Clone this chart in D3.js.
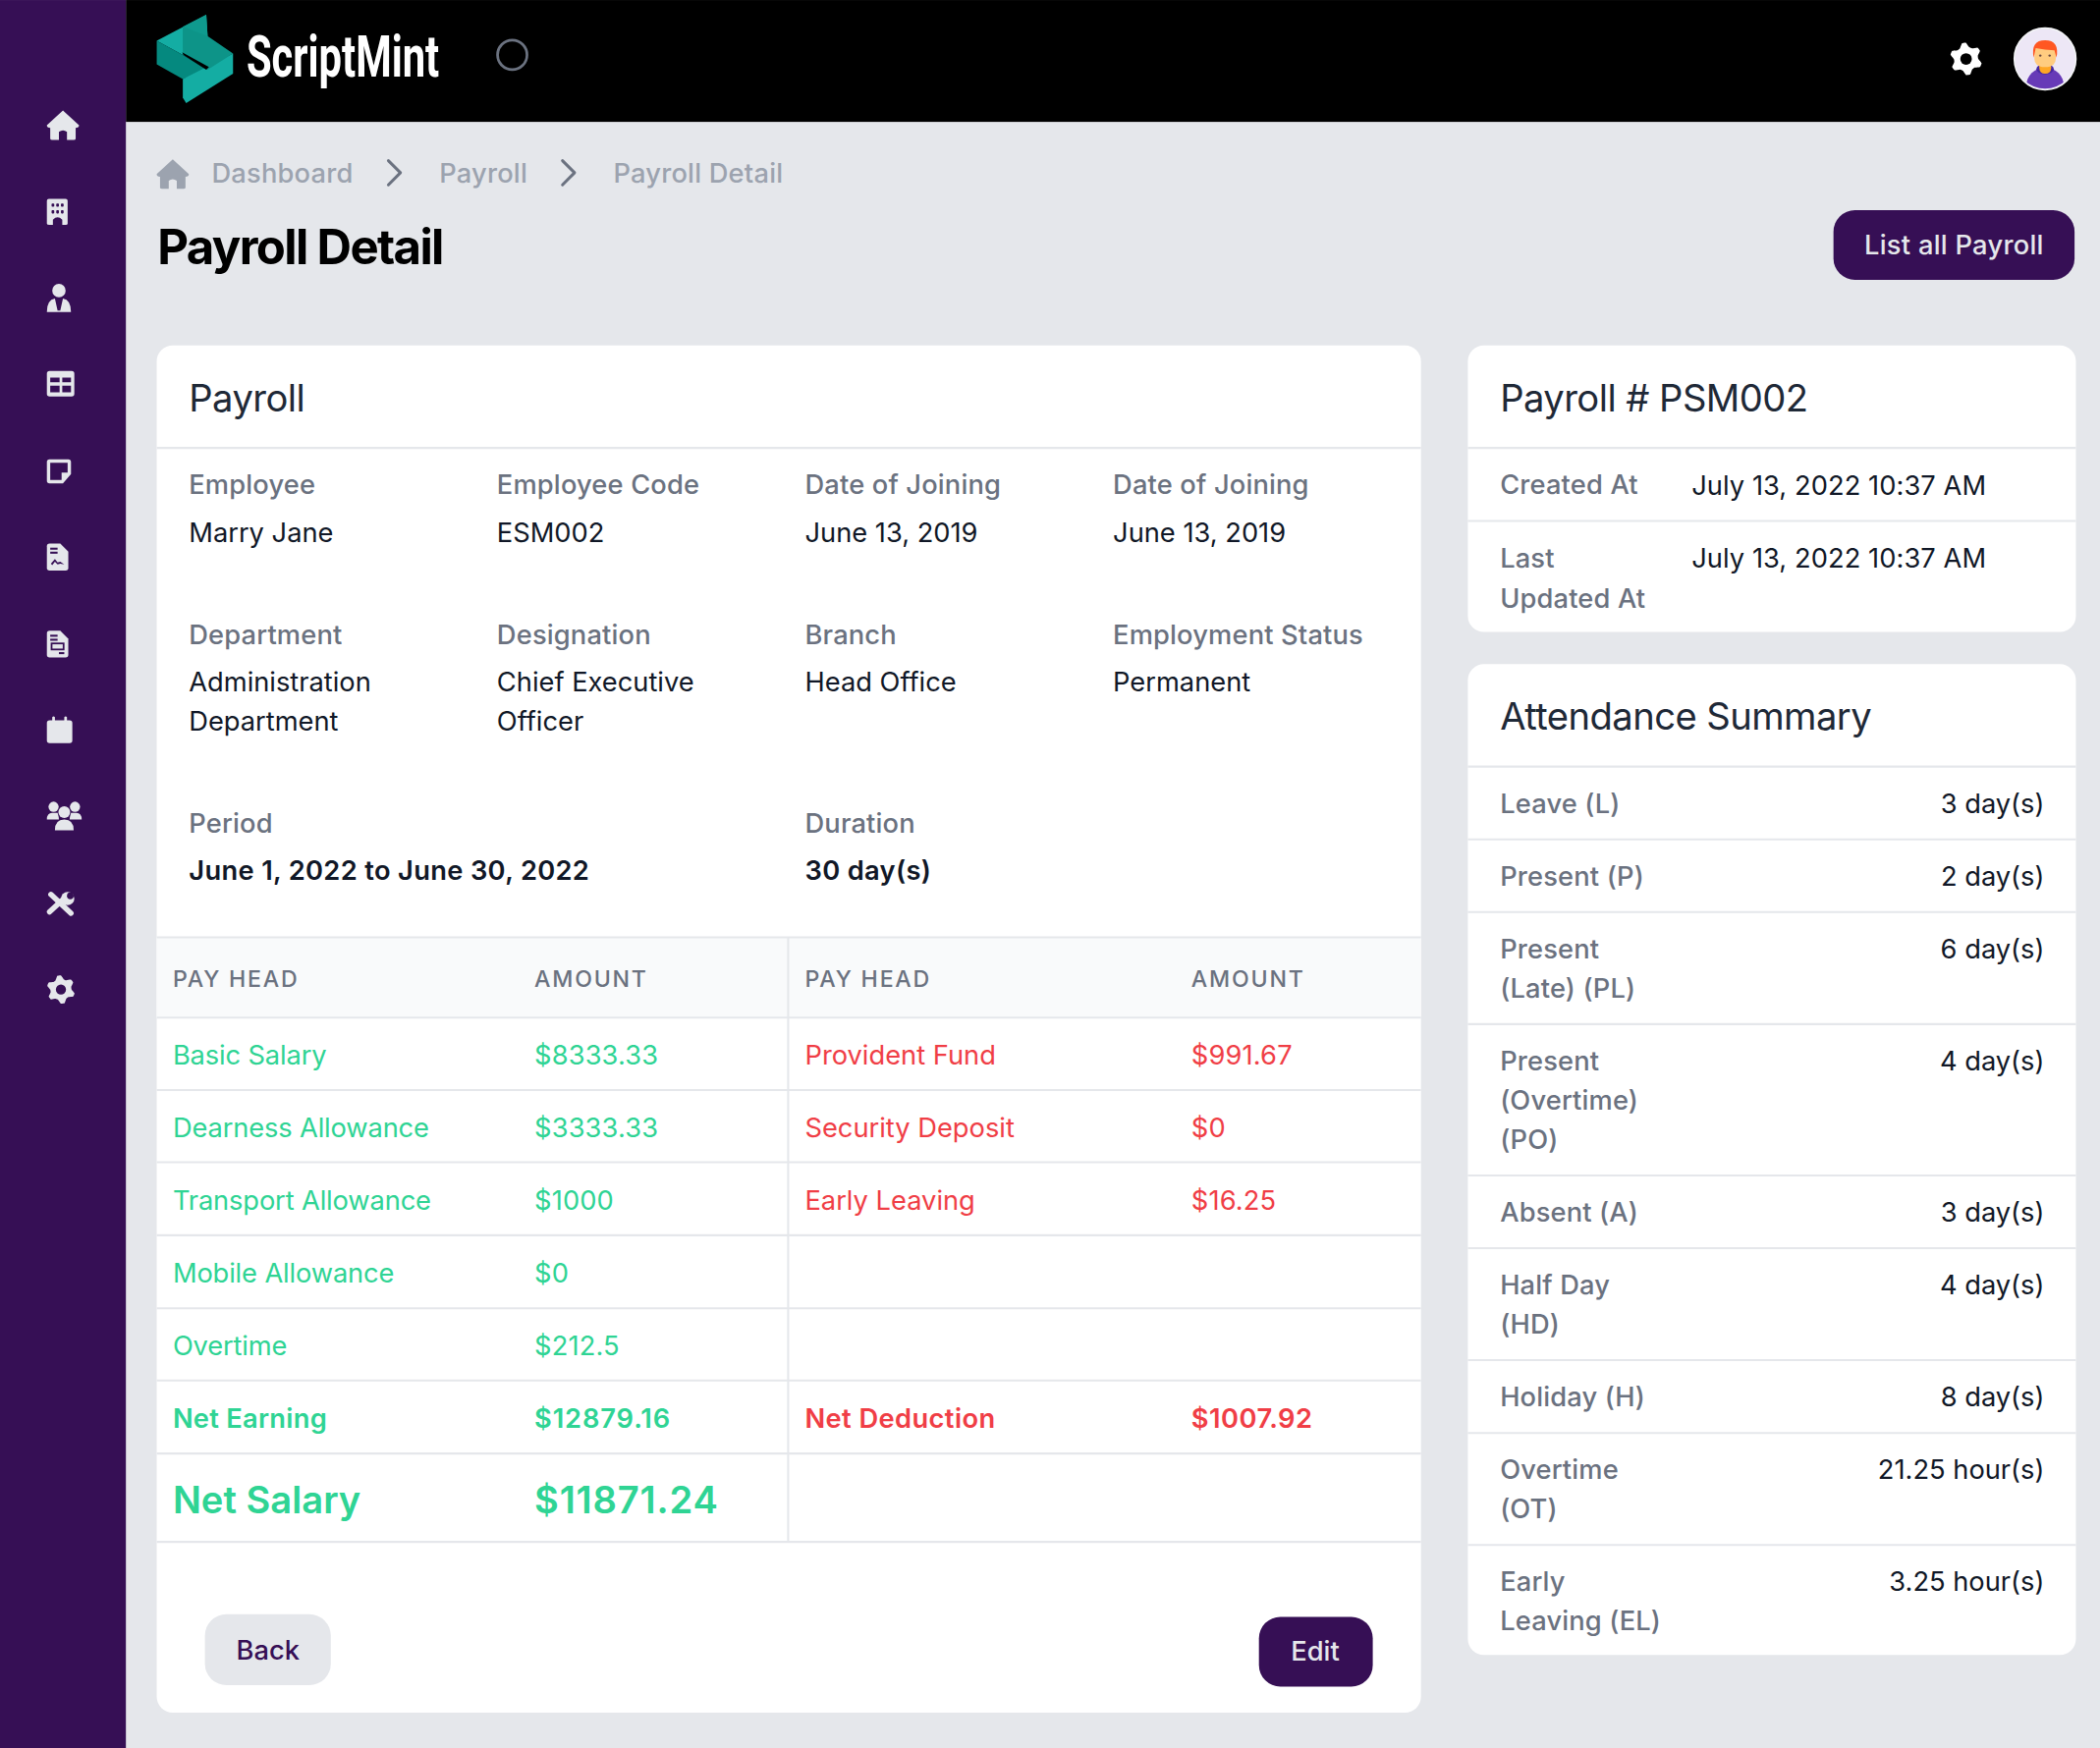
<!DOCTYPE html>
<html>
<head>
<meta charset="utf-8">
<title>Payroll Detail</title>
<script src="https://cdn.jsdelivr.net/npm/d3@7"></script>
<style>
html, body { margin: 0; padding: 0; background: #e5e7eb; overflow: hidden; }
svg { display: block; }
text { font-family: Inter, "Noto Sans", sans-serif; }
</style>
</head>
<body>
<div id="page"></div>
<script>
// page content
const crumbs = ["Dashboard", "Payroll", "Payroll Detail"];

const infoRow1 = [["Employee", ["Marry Jane"]], ["Employee Code", ["ESM002"]], ["Date of Joining", ["June 13, 2019"]], ["Date of Joining", ["June 13, 2019"]]];
const infoRow2 = [["Department", ["Administration", "Department"]], ["Designation", ["Chief Executive", "Officer"]], ["Branch", ["Head Office"]], ["Employment Status", ["Permanent"]]];
const infoRow3 = [["Period", "June 1, 2022 to June 30, 2022"], ["Duration", "30 day(s)"]];

const earningHeads = ["Basic Salary", "Dearness Allowance", "Transport Allowance", "Mobile Allowance", "Overtime"];
const earningAmounts = ["$8333.33", "$3333.33", "$1000", "$0", "$212.5"];
const deductionHeads = ["Provident Fund", "Security Deposit", "Early Leaving"];
const deductionAmounts = ["$991.67", "$0", "$16.25"];
const netEarning = "$12879.16";
const netDeduction = "$1007.92";
const netSalary = "$11871.24";

const attendanceLabels = [["Leave (L)"], ["Present (P)"], ["Present", "(Late) (PL)"], ["Present", "(Overtime)", "(PO)"], ["Absent (A)"], ["Half Day", "(HD)"], ["Holiday (H)"], ["Overtime", "(OT)"], ["Early", "Leaving (EL)"]];
const attendanceValues = ["3 day(s)", "2 day(s)", "6 day(s)", "4 day(s)", "3 day(s)", "4 day(s)", "8 day(s)", "21.25 hour(s)", "3.25 hour(s)"];

const purple = "#360f55", line = "#e5e7eb", grey = "#6b7280", dark = "#111827", green = "#2fd494", red = "#f03e46";

// everything below is laid out in the 1568 wide space, the viewBox scales it up
const svg = d3.select("#page").append("svg")
    .attr("width", 2138).attr("height", 1780)
    .attr("viewBox", "0 0 1568 1305.4");

function rect(x, y, w, h, fill, r) {
    return svg.append("rect").attr("x", x).attr("y", y).attr("width", w).attr("height", h)
        .attr("fill", fill).attr("rx", r || 0);
}
function label(x, y, str, opts) {
    opts = opts || {};
    return svg.append("text").attr("x", x).attr("y", y).text(str)
        .attr("font-size", opts.size || 20)
        .attr("font-weight", opts.weight || 400)
        .attr("fill", opts.fill || dark)
        .attr("text-anchor", opts.anchor || "start")
        .attr("letter-spacing", opts.spacing || 0);
}
function hr(x1, x2, y) {
    svg.append("line").attr("x1", x1).attr("x2", x2).attr("y1", y).attr("y2", y)
        .attr("stroke", line).attr("stroke-width", 1.5);
}
function vr(x, y1, y2) {
    svg.append("line").attr("x1", x).attr("x2", x).attr("y1", y1).attr("y2", y2)
        .attr("stroke", line).attr("stroke-width", 1.5);
}
function path(d, fill, evenodd) {
    return svg.append("path").attr("d", d).attr("fill", fill).attr("fill-rule", evenodd ? "evenodd" : "nonzero");
}

function gear(cx, cy, r, fill, holeFill) {
    const teeth = 6, pts = [];
    for (let i = 0; i < teeth * 4; i++) {
        const a = (i + 0.5) / (teeth * 4) * 2 * Math.PI + Math.PI / 2 - Math.PI / 24 * 3;
        const rr = (i % 4 < 2) ? r : r * 0.76;
        pts.push([cx + rr * Math.cos(a), cy + rr * Math.sin(a)]);
    }
    svg.append("path").attr("d", d3.line().curve(d3.curveCardinalClosed.tension(0.6))(pts)).attr("fill", fill);
    svg.append("circle").attr("cx", cx).attr("cy", cy).attr("r", r * 0.36).attr("fill", holeFill);
}

function homeIcon(x, y, w, fill) {
    const s = w / 24;
    const p = `M${x + 12 * s},${y} L${x + 24 * s},${y + 11 * s} Q${x + 24 * s},${y + 13 * s} ${x + 21.5 * s},${y + 13 * s}
        L${x + 21.5 * s},${y + 21 * s} Q${x + 21.5 * s},${y + 22 * s} ${x + 20 * s},${y + 22 * s} L${x + 15 * s},${y + 22 * s}
        L${x + 15 * s},${y + 16 * s} Q${x + 12 * s},${y + 13.5 * s} ${x + 9 * s},${y + 16 * s} L${x + 9 * s},${y + 22 * s}
        L${x + 4 * s},${y + 22 * s} Q${x + 2.5 * s},${y + 22 * s} ${x + 2.5 * s},${y + 21 * s} L${x + 2.5 * s},${y + 13 * s}
        Q${x},${y + 13 * s} ${x},${y + 11 * s} Z`;
    path(p, fill);
}

// frame
rect(0, 0, 1568, 1306, "#e5e7eb");
rect(94, 0, 1474, 91, "#000");
rect(0, 0, 94, 1306, purple);

// logo
path("M154,11 L155,27 L136.5,41 L117,30.5 Z", "#14ada3");
path("M136.5,20 L154,11 L155,27 L155,45 L136.5,36 Z", "#0f9a8e");
path("M117,30.5 L136.5,41 L155,52 L136.5,59 L117,48 Z", "#05897f");
path("M174,40 L174,55 L139,77 L136.5,73 L136.5,59 Z", "#14ada3");
path("M136.5,20 L155,27 L174,40 L155,52 L136.5,41 Z", "#0d9488");
path("M136,39 L156,50 L154,52 L137,41 Z", "#000");
label(184, 57, "ScriptMint", { size: 44, fill: "#fff", weight: 700 })
    .style("font-family", "'Liberation Sans Narrow', Roboto, sans-serif")
    .attr("textLength", 144).attr("lengthAdjust", "spacingAndGlyphs");
svg.append("circle").attr("cx", 382.5).attr("cy", 41).attr("r", 11)
    .attr("fill", "none").attr("stroke", grey).attr("stroke-width", 2);

// top right
gear(1468, 44, 12, "#fff", "#000");
svg.append("circle").attr("cx", 1527).attr("cy", 44).attr("r", 23).attr("fill", "#ede7f6").attr("stroke", "#f3f4f6").attr("stroke-width", 1.2);
svg.append("clipPath").attr("id", "ava").append("circle").attr("cx", 1527).attr("cy", 44).attr("r", 22.2);
const ava = svg.append("g").attr("clip-path", "url(#ava)");
ava.append("ellipse").attr("cx", 1527).attr("cy", 64).attr("rx", 14).attr("ry", 13.5).attr("fill", "#673ab7");
ava.append("ellipse").attr("cx", 1527).attr("cy", 51.5).attr("rx", 6.5).attr("ry", 4).attr("fill", "#4527a0");
ava.append("rect").attr("x", 1522.7).attr("y", 46).attr("width", 8.8).attr("height", 9).attr("rx", 4).attr("fill", "#ffa726");
ava.append("rect").attr("x", 1519).attr("y", 32).attr("width", 16).attr("height", 18).attr("rx", 6).attr("fill", "#ffcc80");
ava.append("path").attr("d", "M1518.5,43 Q1516,30 1527,30 Q1538,30 1535.5,43 L1534,37.5 Q1527,37.5 1520,36 Z").attr("fill", "#ff5722");
ava.append("circle").attr("cx", 1523.4).attr("cy", 41.5).attr("r", 0.9).attr("fill", "#6d4c41");
ava.append("circle").attr("cx", 1530.4).attr("cy", 41.5).attr("r", 0.9).attr("fill", "#6d4c41");

// sidebar icons
const ic = "#e5e7eb";
homeIcon(35, 82.5, 24, ic);
path("M35,150 Q35,148.5 36.5,148.5 L49,148.5 Q50.5,148.5 50.5,150 L50.5,167 Q50.5,168 49,168 L46.5,168 L46.5,164 Q43,160.5 39.5,164 L39.5,168 L37,168 Q35,168 35,167 Z", ic);
[152, 157].forEach(y => [38.5, 42, 45.5].forEach(x => rect(x, y, 2, 2.4, purple, .6)));
svg.append("circle").attr("cx", 44).attr("cy", 217).attr("r", 5).attr("fill", ic);
path("M35,233 Q35,224 41,223 L43,232 L45,232 L47,223 Q53,224 53,233 Z", ic);
path("M35,279 Q35,277 37,277 L53.5,277 Q55.5,277 55.5,279 L55.5,294 Q55.5,296 53.5,296 L37,296 Q35,296 35,294 Z M37.5,282 L44.5,282 L44.5,285.5 L37.5,285.5 Z M46.5,282 L53,282 L53,285.5 L46.5,285.5 Z M37.5,288 L44.5,288 L44.5,293 L37.5,293 Z M46.5,288 L53,288 L53,293 L46.5,293 Z", ic, true);
path("M37,343 L51,343 Q53,343 53,345 L53,354 L47,361 L37,361 Q35,361 35,359 L35,345 Q35,343 37,343 Z M37.5,345.5 L37.5,358.5 L46,358.5 L46,353 L50.5,353 L50.5,345.5 Z", ic, true);
path("M37,406 L45,406 L51,412 L51,424 Q51,426 49,426 L37,426 Q35,426 35,424 L35,408 Q35,406 37,406 Z", ic);
rect(37.5, 409, 5.5, 1.5, purple);
rect(37.5, 412, 5.5, 1.5, purple);
path("M38,421 L41,417.5 L43,420 L45,419.5 L48,421.5 L45,421 L43,421.5 L41,419.5 L39,422 Z", purple);
path("M37,471 L45,471 L51,477 L51,489 Q51,491 49,491 L37,491 Q35,491 35,489 L35,473 Q35,471 37,471 Z", ic);
rect(37.5, 474, 5.5, 1.5, purple);
rect(37.5, 477, 5.5, 1.5, purple);
svg.append("rect").attr("x", 38.5).attr("y", 480.5).attr("width", 9).attr("height", 4.5).attr("fill", "none").attr("stroke", purple).attr("stroke-width", 1.3);
rect(44, 487, 4, 1.5, purple);
path("M37,538 L39,538 L39,535.5 Q40,534.5 41,535.5 L41,538 L48,538 L48,535.5 Q49,534.5 50,535.5 L50,538 L52,538 Q54,538 54,540 L54,553 Q54,555 52,555 L37,555 Q35,555 35,553 L35,540 Q35,538 37,538 Z", ic);
[[40, 602.5, 3.8], [56, 602.5, 3.8], [48, 606.5, 4.4]].forEach(c => svg.append("circle").attr("cx", c[0]).attr("cy", c[1]).attr("r", c[2]).attr("fill", ic));
path("M35,612 Q35,607 39,607 L43,607 Q44,610 44,612 Z M61,612 Q61,607 57,607 L53,607 Q52,610 52,612 Z M41,620 Q41,612 48,612 Q55,612 55,620 Z", ic);
svg.append("line").attr("x1", 38).attr("y1", 668).attr("x2", 53).attr("y2", 682).attr("stroke", ic).attr("stroke-width", 4).attr("stroke-linecap", "round");
svg.append("line").attr("x1", 37).attr("y1", 681).attr("x2", 50).attr("y2", 669).attr("stroke", ic).attr("stroke-width", 4).attr("stroke-linecap", "round");
svg.append("circle").attr("cx", 50.5).attr("cy", 671).attr("r", 5).attr("fill", ic);
svg.append("circle").attr("cx", 52.5).attr("cy", 669).attr("r", 2.5).attr("fill", purple);
gear(45.5, 739, 10.5, ic, purple);

// breadcrumb
homeIcon(117, 119, 24, "#9ca3af");
const crumbX = [158, 328, 458];
crumbs.forEach((c, i) => label(crumbX[i], 136.5, c, { fill: "#9ca3af", weight: 500, spacing: 0.15 }));
[290, 420].forEach(x => svg.append("path").attr("d", `M${x},120 L${x + 9},129 L${x},138`)
    .attr("fill", "none").attr("stroke", grey).attr("stroke-width", 2.2).attr("stroke-linecap", "round").attr("stroke-linejoin", "round"));

// title and button
label(117.5, 197, "Payroll Detail", { size: 36, weight: 700, fill: "#000", spacing: -1.2 });
rect(1369, 157, 180, 52, purple, 16);
label(1459, 190, "List all Payroll", { weight: 500, fill: "#e5e7eb", anchor: "middle", spacing: 0.2 });

// cards
rect(117, 258, 944, 1021, "#fff", 12);
rect(1096, 258, 454, 214, "#fff", 12);
rect(1096, 496, 454, 740, "#fff", 12);

const heading = { size: 28, fill: "#1f2937", spacing: -0.4 };
const field = { fill: grey, weight: 500, spacing: 0.12 };

// payroll card
label(141, 307, "Payroll", heading);
hr(117, 1061, 334.5);
const infoX = [141, 371, 601, 831];
infoRow1.forEach((d, i) => {
    label(infoX[i], 369, d[0], field);
    d[1].forEach((v, j) => label(infoX[i], 405 + j * 29.5, v));
});
infoRow2.forEach((d, i) => {
    label(infoX[i], 481, d[0], field);
    d[1].forEach((v, j) => label(infoX[i], 516 + j * 29.5, v));
});
infoRow3.forEach((d, i) => {
    label(infoX[i * 2], 622, d[0], field);
    label(infoX[i * 2], 657, d[1], { weight: 600, spacing: 0.25 });
});

// pay table
const colX = [129, 399, 601, 889.5];
rect(117, 700, 944, 60, "#f9fafb");
colX.forEach((x, i) => label(x, 737, i % 2 ? "AMOUNT" : "PAY HEAD", { size: 17, fill: grey, weight: 500, spacing: 1.3 }));
const rowLines = [760, 814, 868, 922.5, 977, 1031, 1085.5, 1151.5];
hr(117, 1061, 700);
rowLines.forEach(y => hr(117, 1061, y));
vr(588.5, 700, 1151.5);
const rowY = d3.scaleLinear().domain([0, 5]).range([795, 1066]);
earningHeads.forEach((h, i) => {
    label(colX[0], rowY(i), h, { fill: green, spacing: -0.1 });
    label(colX[1], rowY(i), earningAmounts[i], { fill: green, spacing: 0.1 });
});
deductionHeads.forEach((h, i) => {
    label(colX[2], rowY(i), h, { fill: red });
    label(colX[3], rowY(i), deductionAmounts[i], { fill: red, spacing: 0.1 });
});
label(colX[0], rowY(5), "Net Earning", { fill: green, weight: 600, spacing: 0.2 });
label(colX[1], rowY(5), netEarning, { fill: green, weight: 600, spacing: 0.65 });
label(colX[2], rowY(5), "Net Deduction", { fill: red, weight: 600, spacing: 0.3 });
label(colX[3], rowY(5), netDeduction, { fill: red, weight: 600, spacing: 0.35 });
label(colX[0], 1130, "Net Salary", { size: 28, fill: green, weight: 600 });
label(colX[1], 1130, netSalary, { size: 28, fill: green, weight: 600, spacing: 0.6 });

// buttons
rect(153, 1205.5, 94, 53, "#e5e7eb", 16);
label(200, 1239.5, "Back", { fill: purple, weight: 500, anchor: "middle" });
rect(940, 1207.5, 85, 52, purple, 16);
label(982, 1240.5, "Edit", { fill: "#e5e7eb", weight: 500, anchor: "middle" });

// payroll number card
label(1120, 307, "Payroll # PSM002", heading);
hr(1096, 1550, 334.5);
label(1120, 369, "Created At", field);
label(1263, 369.5, "July 13, 2022 10:37 AM", { spacing: 0.05 });
hr(1096, 1550, 389);
label(1120, 424, "Last", field);
label(1120, 454, "Updated At", field);
label(1263, 424, "July 13, 2022 10:37 AM", { spacing: 0.05 });

// attendance card
label(1120, 545, "Attendance Summary", heading);
let rowTop = 572.5;
attendanceLabels.forEach((lines, i) => {
    hr(1096, 1550, rowTop);
    lines.forEach((l, j) => label(1120, rowTop + 34.6 + j * 29.33, l, field));
    label(1526.5, rowTop + 34.6, attendanceValues[i], { anchor: "end" });
    rowTop += lines.length * 29.33 + 25;
});
</script>
</body>
</html>
